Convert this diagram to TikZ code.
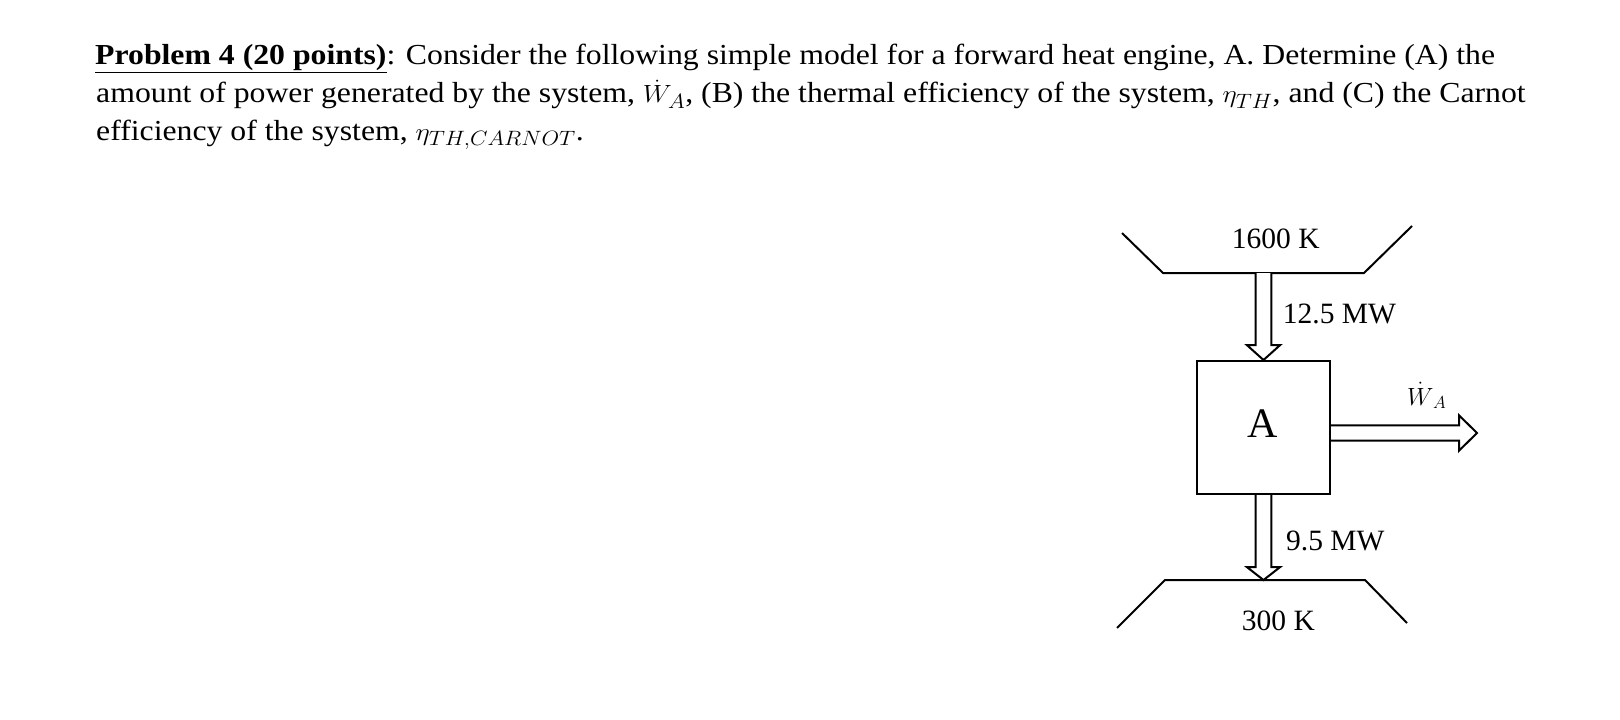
\documentclass[tikz,border=0pt]{standalone}
\usepackage{fontspec}
\setmainfont{Liberation Serif}
\usetikzlibrary{calc}
\newcommand{\wide}[1]{\scalebox{1.095}[1]{#1}}
\tikzset{
  txt/.style={inner sep=0pt, anchor=base west},
  ptxt/.style={inner sep=0pt, anchor=base west, font=\fontsize{29}{34}\selectfont},
  lbl/.style={inner sep=0pt, anchor=base west, font=\fontsize{29.5}{34}\selectfont},
  res/.style={line width=2pt, line join=miter},
  hollow/.style={line width=2pt, line join=miter, fill=white},
  engine/.style={draw, line width=2pt, minimum width=133pt, minimum height=133pt, inner sep=0pt}
}
\begin{document}
\begin{tikzpicture}[x=1pt,y=-1pt]
\useasboundingbox (0,0) rectangle (1620,720);
% problem text
\node[ptxt] (l1) at (95,64.3) {\wide{\textbf{\underline{Problem 4 (20 points)}}: Consider the following simple model for a forward heat engine, A. Determine (A) the}};
\node[ptxt] (l2) at (96,102.7) {\wide{amount of power generated by the system, $\dot{W}_{A}$, (B) the thermal efficiency of the system, $\eta_{TH}$, and (C) the Carnot}};
\node[ptxt] (l3) at (96,140) {\wide{efficiency of the system, $\eta_{TH,CARNOT}$.}};
% reservoirs
\coordinate (hot) at (1263.5,273);
\coordinate (cold) at (1263.5,580);
\draw[res] (1122,233) -- (1163,273) -- (1364,273) -- (1412,226);
\draw[res] (1117,628) -- (1165,580) -- (1365,580) -- (1407,623);
% engine
\node[engine] (A) at (1263.5,427.5) {};
\node[lbl, font=\fontsize{42}{48}\selectfont] (Alab) at (1247.3,437.3) {A};
\coordinate (out) at (1477,433);
% heat in arrow
\draw[hollow] ($(hot)+(-7.8,0)$) -- ($(A.north)+(-7.8,-15)$) -- ($(A.north)+(-16.7,-15)$) -- (A.north)
  -- ($(A.north)+(16.7,-15)$) -- ($(A.north)+(7.8,-15)$) -- ($(hot)+(7.8,0)$);
% heat out arrow
\draw[hollow] ($(A.south)+(-7.8,0)$) -- ($(cold)+(-7.8,-13)$) -- ($(cold)+(-16.7,-13)$) -- (cold)
  -- ($(cold)+(16.7,-13)$) -- ($(cold)+(7.8,-13)$) -- ($(A.south)+(7.8,0)$);
% work arrow
\draw[hollow] ($(A.east|-out)+(0,-7.7)$) -- ($(out)+(-18,-7.7)$) -- ($(out)+(-18,-17.7)$) -- (out)
  -- ($(out)+(-18,17.7)$) -- ($(out)+(-18,7.7)$) -- ($(A.east|-out)+(0,7.7)$);
% labels
\node[lbl] (thot) at (1231.7,248.3) {1600 K};
\node[lbl] (qin) at (1282.7,323.3) {12.5 MW};
\node[lbl] (qout) at (1286,550) {9.5 MW};
\node[lbl] (tcold) at (1241.7,630) {300 K};
\node[txt, font=\fontsize{25}{28}\selectfont] (wa) at (1407,405) {$\dot{W}_{\,A}$};
\end{tikzpicture}
\end{document}
